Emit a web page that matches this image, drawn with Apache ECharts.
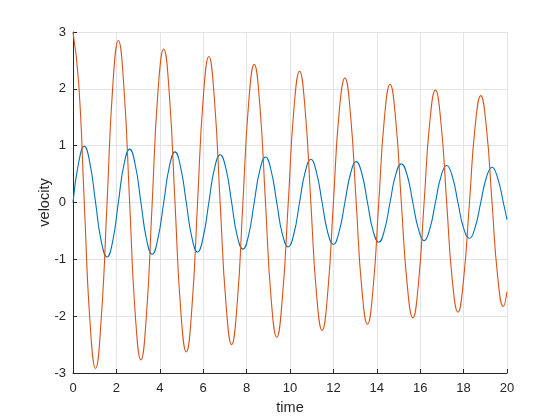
<!DOCTYPE html>
<html>
<head>
<meta charset="utf-8">
<script src="https://cdn.jsdelivr.net/npm/echarts@6/dist/echarts.min.js"></script>
<style>
html,body{margin:0;padding:0;background:#fff;}
#c{width:560px;height:420px;}
</style>
</head>
<body>
<div id="c"></div>
<script>
var time = [0,0.26,0.52,0.78,1.04,1.30,1.57,1.83,
2.09,2.35,2.61,2.87,3.13,3.39,3.65,3.91,
4.18,4.44,4.70,4.96,5.22,5.48,5.74,6.00,
6.26,6.52,6.78,7.05,7.31,7.57,7.83,8.09,
8.35,8.61,8.87,9.13,9.39,9.65,9.92,10.18,
10.44,10.70,10.96,11.22,11.48,11.74,12.00,12.26,
12.53,12.79,13.05,13.31,13.57,13.83,14.09,14.35,
14.61,14.87,15.13,15.40,15.66,15.92,16.18,16.44,
16.70,16.96,17.22,17.48,17.74,18.00,18.27,18.53,
18.79,19.05,19.31,19.57,19.83,20];

var blue = [0,0.70,0.99,0.69,0,-0.68,-0.96,-0.68,
0,0.67,0.94,0.66,0,-0.65,-0.91,-0.64,
0,0.63,0.89,0.62,0,-0.62,-0.87,-0.61,
0,0.60,0.84,0.59,0,-0.59,-0.82,-0.58,
0,0.57,0.80,0.56,0,-0.56,-0.78,-0.55,
0,0.54,0.76,0.53,0,-0.53,-0.74,-0.52,
0,0.51,0.72,0.51,0,-0.50,-0.70,-0.49,
0,0.49,0.68,0.48,0,-0.47,-0.67,-0.47,
0,0.46,0.65,0.46,0,-0.45,-0.63,-0.44,
0,0.44,0.62,0.43,0,-0.30];

var orange = [3.00,2.11,0,-2.08,-2.92,-2.05,0,2.03,
2.85,2.00,0,-1.97,-2.77,-1.95,0,1.92,
2.70,1.90,0,-1.87,-2.63,-1.85,0,1.83,
2.57,1.80,0,-1.78,-2.50,-1.76,0,1.73,
2.43,1.71,0,-1.69,-2.37,-1.67,0,1.64,
2.31,1.62,0,-1.60,-2.25,-1.58,0,1.56,
2.19,1.54,0,-1.52,-2.14,-1.50,0,1.48,
2.08,1.46,0,-1.44,-2.03,-1.42,0,1.41,
1.98,1.39,0,-1.37,-1.93,-1.35,0,1.33,
1.88,1.32,0,-1.30,-1.83,-1.57];

var xTicks = {min:0, max:20, step:2};
var yTicks = {min:-3, max:3, step:1};

function pairs(ys){ return time.map(function(t,i){ return [t, ys[i]]; }); }

var chart = echarts.init(document.getElementById('c'), null, {renderer:'canvas'});
var font = 'Liberation Sans, Arial, Helvetica, sans-serif';
chart.setOption({
  animation:false,
  backgroundColor:'#ffffff',
  grid:{left:73, right:53, top:32, bottom:47, containLabel:false},
  xAxis:{
    type:'value', min:xTicks.min, max:xTicks.max, interval:xTicks.step,
    name:'time', nameLocation:'middle', nameGap:27, nameMoveOverlap:false,
    nameTextStyle:{color:'#262626', fontSize:14.5, fontFamily:font},
    axisLine:{show:true, onZero:false, lineStyle:{color:'#262626', width:1}},
    axisTick:{show:true, inside:true, length:4, lineStyle:{color:'#262626'}},
    axisLabel:{color:'#262626', fontSize:13, fontFamily:font, margin:9},
    splitLine:{show:true, lineStyle:{color:'#e3e3e3', width:1}}
  },
  yAxis:{
    type:'value', min:yTicks.min, max:yTicks.max, interval:yTicks.step,
    name:'velocity', nameLocation:'middle', nameGap:21, nameMoveOverlap:false,
    nameTextStyle:{color:'#262626', fontSize:14.5, fontFamily:font},
    axisLine:{show:true, onZero:false, lineStyle:{color:'#262626', width:1}},
    axisTick:{show:true, inside:true, length:4, lineStyle:{color:'#262626'}},
    axisLabel:{color:'#262626', fontSize:13, fontFamily:font, margin:7},
    splitLine:{show:true, lineStyle:{color:'#e3e3e3', width:1}}
  },
  series:[
    {type:'line', name:'blue', data:pairs(blue), smooth:0.5, showSymbol:false,
     lineStyle:{color:'#0072BD', width:1.1}, itemStyle:{color:'#0072BD'}},
    {type:'line', name:'orange', data:pairs(orange), smooth:0.5, showSymbol:false,
     lineStyle:{color:'#D95319', width:1.1}, itemStyle:{color:'#D95319'}}
  ]
});
</script>
</body>
</html>
